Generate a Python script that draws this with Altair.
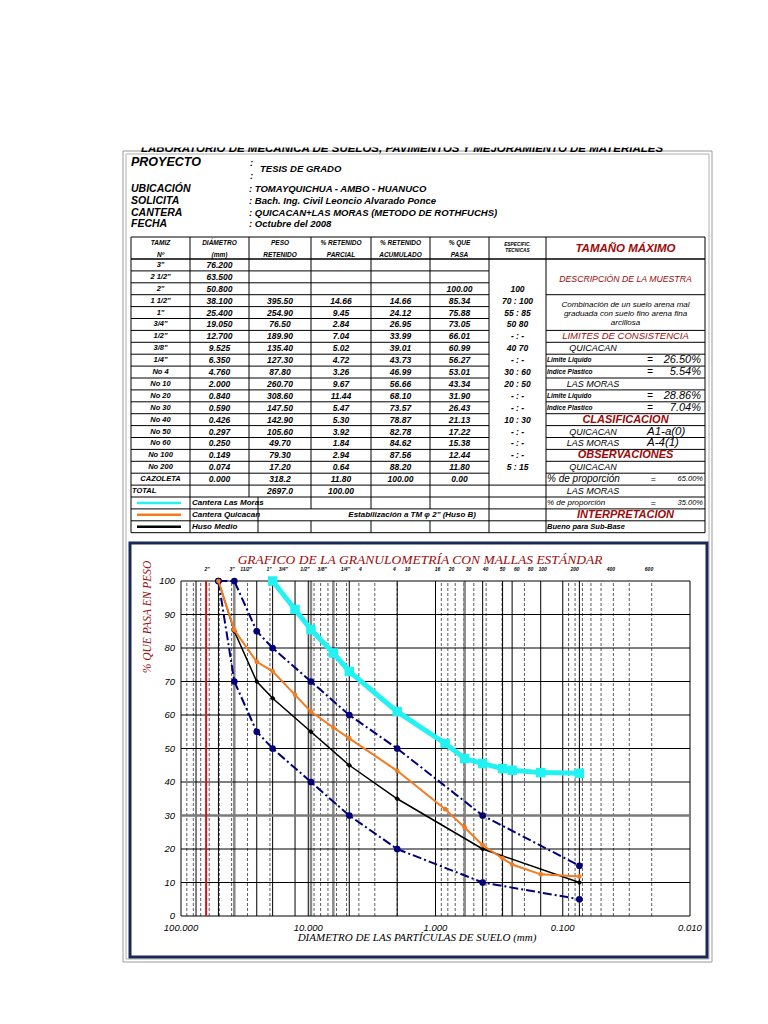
import altair as alt
import pandas as pd

# ================= DATA =================
lab_title = "LABORATORIO DE MECANICA DE SUELOS, PAVIMENTOS Y MEJORAMIENTO DE MATERIALES"
project_label = "PROYECTO"
project_value = "TESIS DE GRADO"
info_labels = ["UBICACIÓN", "SOLICITA", "CANTERA", "FECHA"]
info_values = ["TOMAYQUICHUA - AMBO - HUANUCO",
               "Bach. Ing. Civil Leoncio Alvarado Ponce",
               "QUICACAN+LAS MORAS (METODO DE ROTHFUCHS)",
               "Octubre del 2008"]

head_line1 = ["TAMIZ", "DIÁMETRO", "PESO", "% RETENIDO", "% RETENIDO", "% QUE", "ESPECIFIC."]
head_line2 = ["Nº", "(mm)", "RETENIDO", "PARCIAL", "ACUMULADO", "PASA", "TECNICAS"]

tamiz = ['3"', '2 1/2"', '2"', '1 1/2"', '1"', '3/4"', '1/2"', '3/8"', '1/4"', 'No 4',
         'No 10', 'No 20', 'No 30', 'No 40', 'No 50', 'No 60', 'No 100', 'No 200', 'CAZOLETA']
diametro = ['76.200', '63.500', '50.800', '38.100', '25.400', '19.050', '12.700', '9.525', '6.350',
            '4.760', '2.000', '0.840', '0.590', '0.426', '0.297', '0.250', '0.149', '0.074', '0.000']
peso = ['', '', '', '395.50', '254.90', '76.50', '189.90', '135.40', '127.30', '87.80',
        '260.70', '308.60', '147.50', '142.90', '105.60', '49.70', '79.30', '17.20', '318.2']
ret_parcial = ['', '', '', '14.66', '9.45', '2.84', '7.04', '5.02', '4.72', '3.26',
               '9.67', '11.44', '5.47', '5.30', '3.92', '1.84', '2.94', '0.64', '11.80']
ret_acum = ['', '', '', '14.66', '24.12', '26.95', '33.99', '39.01', '43.73', '46.99',
            '56.66', '68.10', '73.57', '78.87', '82.78', '84.62', '87.56', '88.20', '100.00']
pasa = ['', '', '100.00', '85.34', '75.88', '73.05', '66.01', '60.99', '56.27', '53.01',
        '43.34', '31.90', '26.43', '21.13', '17.22', '15.38', '12.44', '11.80', '0.00']
especif = ['', '', '100', '70 : 100', '55 : 85', '50    80', '- : -', '40    70', '- : -', '30 : 60',
           '20 : 50', '- : -', '- : -', '10 : 30', '- : -', '- : -', '- : -', '5 : 15', '']
total_label = "TOTAL"
total_peso = "2697.0"
total_parcial = "100.00"
legend_names = ["Cantera Las Moras", "Cantera Quicacan", "Huso Medio"]
legend_colors = ["#22F2F2", "#F47B20", "#000000"]
stabil_note = 'Estabilización a TM \u03c6 2" (Huso B)'

tm_title = "TAMAÑO MÁXIMO"
desc_title = "DESCRIPCIÓN DE LA MUESTRA"
desc_lines = ["Combinación de un suelo arena mal", "graduada con suelo fino arena fina", "arcillosa"]
lim_title = "LIMITES DE CONSISTENCIA"
quarry_a = "QUICACAN"
quarry_b = "LAS MORAS"
ll_label = "Limite Liquido"
ip_label = "Indice Plastico"
ll_values = ["26.50%", "28.86%"]
ip_values = ["5.54%", "7.04%"]
clas_title = "CLASIFICACION"
clas_values = ["A1-a(0)", "A-4(1)"]
obs_title = "OBSERVACIONES"
prop_label = "% de proporción"
prop_values = ["65.00%", "35.00%"]
interp_title = "INTERPRETACION"
interp_text = "Bueno para Sub-Base"

chart_title = "GRAFICO DE LA GRANULOMETRÍA CON MALLAS ESTÁNDAR"
y_title = "% QUE PASA EN PESO"
x_title = "DIAMETRO DE LAS PARTÍCULAS DE SUELO (mm)"

# granulometric curves
quic_d = [50.8, 38.1, 25.4, 19.05, 12.7, 9.525, 6.35, 4.76, 2.0, 0.84, 0.59, 0.426, 0.297, 0.25, 0.149, 0.074]
quic_pasa = [100.00, 85.34, 75.88, 73.05, 66.01, 60.99, 56.27, 53.01, 43.34, 31.90, 26.43, 21.13, 17.22, 15.38, 12.44, 11.80]
moras_d = [19.05, 12.7, 9.525, 6.35, 4.76, 2.0, 0.84, 0.59, 0.426, 0.297, 0.25, 0.149, 0.074]
moras_pasa = [100, 91.5, 85.5, 78.5, 73.0, 61.0, 51.5, 47.0, 45.5, 44.0, 43.5, 42.8, 42.6]
huso_d = [50.8, 38.1, 25.4, 19.05, 9.525, 4.76, 2.0, 0.426, 0.074]
huso_sup = [100, 100, 85, 80, 70, 60, 50, 30, 15]
huso_inf = [100, 70, 55, 50, 40, 30, 20, 10, 5]
huso_med = [100, 85, 70, 65, 55, 45, 35, 20, 10]

# grid / tick values
sieve_lines = [76.2, 50.8, 38.1, 25.4, 19.05, 12.7, 9.525, 6.35, 4.76, 2.0, 0.59, 0.426, 0.297, 0.25, 0.149, 0.074]
heavy_lines = [38.1, 9.525, 6.35, 0.59]
decade_vals = [100, 10, 1, 0.1, 0.01]
decade_labels = ["100.000", "10.000", "1.000", "0.100", "0.010"]
minor_vals = [k * 10.0 ** n for n in (-2, -1, 0, 1) for k in range(2, 10)]
max_size_line = [63.5]
y_ticks = [0, 10, 20, 30, 40, 50, 60, 70, 80, 90, 100]
top_labels = ['2"', '3"', '11/2"', '1"', '3/4"', '1/2"', '3/8"', '1/4"', '4', '4', '10', '16',
              '20', '30', '40', '50', '60', '80', '100', '200', '400', '600']
top_label_d = [62.4, 39.7, 30.8, 20.3, 15.7, 10.6, 7.76, 5.11, 3.9, 2.1, 1.66, 0.964,
               0.748, 0.55, 0.404, 0.297, 0.23, 0.179, 0.144, 0.0806, 0.0419, 0.021]

# ================= LAYOUT / STYLE =================
OFF = 8
SANS = "Liberation Sans"
SERIF = "Liberation Serif"
RED = "#9B0A0A"
NAVY = "#00007A"

texts = []
def T(t, x, y, s, c="black", a="center", w="bold", st="italic", f=SANS, ang=0):
    texts.append(dict(t=t, x=x - OFF, y=y - OFF, s=s, c=c, a=a, w=w, st=st, f=f, ang=ang))

lines = []
def L(x, y, x2, y2, c="black", w=1.0, dash=()):
    lines.append(dict(x=x - OFF, y=y - OFF, x2=x2 - OFF, y2=y2 - OFF, c=c, w=w, dash=tuple(dash)))

rects = []
def R(x, y, x2, y2, fill="none", stroke="none", sw=0):
    rects.append(dict(x=x - OFF, y=y - OFF, x2=x2 - OFF, y2=y2 - OFF, fill=fill, stroke=stroke, sw=sw))

# lab title (cut off at the top by a white mask drawn later)
T(lab_title, 402, 149, 11.5)
mask = pd.DataFrame([dict(x=100 - OFF, y=120 - OFF, x2=730 - OFF, y2=147.6 - OFF)])

# document frame
R(123, 151, 712, 962, stroke="#9a9a9a", sw=1)
R(126, 154, 709, 959, stroke="#b0b0b0", sw=1)

# header block
T(project_label, 131, 162, 12.5, a="left")
T(":", 250, 163, 9.5, a="left")
T(":", 250, 176, 9.5, a="left")
T(project_value, 260, 169, 9.5, a="left")
for k, (lab, val) in enumerate(zip(info_labels, info_values)):
    y = [189, 200.5, 212.5, 224][k]
    T(lab, 131, y, 10.5, a="left")
    T(": " + val, 249, y, 9.5, a="left")

# table geometry
edges = [131, 190, 249, 311, 371, 430, 489, 546, 705]
cc = [(edges[i] + edges[i + 1]) / 2 for i in range(8)]
HT, HB, RH = 237, 259, 11.9
def rc(i):
    return HB + RH * (i + 0.5)
def rt(i):
    return HB + RH * i

for j in range(6):
    T(head_line1[j], cc[j], 243, 6.5)
    T(head_line2[j], cc[j], 255, 6.5)
T(head_line1[6], cc[6], 245, 4.8)
T(head_line2[6], cc[6], 251, 4.8)
T(tm_title, cc[7], 249, 11.5, c=RED)

for i in range(19):
    if tamiz[i]:
        T(tamiz[i], cc[0], rc(i), 7.5)
    for j, col in enumerate([diametro, peso, ret_parcial, ret_acum, pasa, especif]):
        if col[i]:
            T(col[i], cc[j + 1], rc(i), 8.5)
T(total_label, 132, rc(19), 7.5, a="left")
T(total_peso, cc[2], rc(19), 8.5)
T(total_parcial, cc[3], rc(19), 8.5)
for k in range(3):
    yc = rc(20 + k)
    L(137, yc, 181, yc, c=legend_colors[k], w=2.5)
    T(legend_names[k], 192, yc, 8, a="left")
T(stabil_note, 476, rc(21), 8, a="right")

# right panel
T(desc_title, cc[7], 279, 8.7, c=RED, w="normal")
for k, s in enumerate(desc_lines):
    T(s, cc[7], 305 + 9 * k, 8, w="normal")
T(lim_title, cc[7], rc(6), 9.5, c=RED, w="normal")
for q, base in enumerate([7, 10]):
    T([quarry_a, quarry_b][q], 593, rc(base), 9, w="normal")
    T(ll_label, 547, rc(base + 1), 6.5, a="left")
    T("=", 650, rc(base + 1), 10, w="normal")
    T(ll_values[q], 701, rc(base + 1), 11, a="right", w="normal")
    T(ip_label, 547, rc(base + 2), 6.5, a="left")
    T("=", 650, rc(base + 2), 10, w="normal")
    T(ip_values[q], 701, rc(base + 2), 11, a="right", w="normal")
T(clas_title, cc[7], rc(13), 11, c=RED)
T(quarry_a, 593, rc(14), 9, w="normal")
T(clas_values[0], 647, rc(14), 11.5, a="left", w="normal")
T(quarry_b, 593, rc(15), 9, w="normal")
T(clas_values[1], 647, rc(15), 11.5, a="left", w="normal")
T(obs_title, cc[7], rc(16), 11, c=RED)
T(quarry_a, 593, rc(17), 9, w="normal")
T(prop_label, 547, rc(18), 10, a="left", w="normal")
T("=", 653, rc(18), 9, w="normal")
T(prop_values[0], 703, rc(18), 7.5, a="right", w="normal")
T(quarry_b, 593, rc(19), 9, w="normal")
T(prop_label, 547, rc(20), 8, a="left", w="normal")
T("=", 653, rc(20), 9, w="normal")
T(prop_values[1], 703, rc(20), 7.5, a="right", w="normal")
T(interp_title, cc[7], rc(21), 11, c=RED)
T(interp_text, 547, rc(22), 7.5, a="left")

# table lines
L(131, HT, 705, HT)
L(131, HB, 705, HB, w=1.5)
for x in edges:
    L(x, HT, x, HB)
for i in range(1, 24):
    L(131, rt(i), 489, rt(i))
for i in range(19, 24):
    L(489, rt(i), 546, rt(i))
for i in [3, 6] + list(range(7, 24)):
    L(546, rt(i), 705, rt(i))
for x in edges:
    L(x, HB, x, rt(20))
for x in [131, 190, 258, 489, 546, 705]:
    L(x, rt(20), x, rt(23))
for x in [311, 371, 430]:
    L(x, rt(20), x, rt(21))
    L(x, rt(22), x, rt(23))

# chart panel box
R(130, 543, 707, 957, stroke="#1b2a55", sw=3)

# chart titles
T(chart_title, 420, 560, 13.5, c=RED, w="normal", f=SERIF)
T(y_title, 148, 617, 11.5, c=RED, w="normal", f=SERIF, ang=270)
T(x_title, 417, 938, 11, w="normal", f=SERIF)

# ================= BUILD LAYERS =================
layers = []

def pix_x(f="x"):
    return alt.X(f + ":Q", scale=None, axis=None)
def pix_y(f="y"):
    return alt.Y(f + ":Q", scale=None, axis=None)

rdf = pd.DataFrame(rects)
for (fill, stroke, sw), g in rdf.groupby(["fill", "stroke", "sw"], sort=False):
    kw = {}
    kw["fill"] = fill if fill != "none" else "transparent"
    if stroke != "none":
        kw["stroke"] = stroke
        kw["strokeWidth"] = sw
    layers.append(alt.Chart(g).mark_rect(**kw).encode(
        x=pix_x(), x2="x2:Q", y=pix_y(), y2="y2:Q"))

ldf = pd.DataFrame(lines)
for (c, w, dash), g in ldf.groupby(["c", "w", "dash"], sort=False):
    kw = dict(color=c, strokeWidth=w)
    if dash:
        kw["strokeDash"] = list(dash)
    layers.append(alt.Chart(g.drop(columns=["dash"])).mark_rule(**kw).encode(
        x=pix_x(), x2="x2:Q", y=pix_y(), y2="y2:Q"))

# ---- granulometric chart through scales ----
xs = alt.Scale(type="log", domain=[0.01, 100], range=[682, 173], nice=False)
ys = alt.Scale(domain=[0, 100], range=[908, 573], nice=False, zero=False)

def vlines(vals, **kw):
    df = pd.DataFrame({"d": vals, "ya": 0, "yb": 100})
    return alt.Chart(df).mark_rule(**kw).encode(
        x=alt.X("d:Q", scale=xs, axis=None),
        y=alt.Y("ya:Q", scale=ys, axis=None), y2="yb:Q")

def hlines(vals, **kw):
    df = pd.DataFrame({"p": vals, "xa": 0.01, "xb": 100})
    return alt.Chart(df).mark_rule(**kw).encode(
        x=alt.X("xa:Q", scale=xs, axis=None), x2="xb:Q",
        y=alt.Y("p:Q", scale=ys, axis=None))

layers.append(vlines(minor_vals, color="#333333", strokeWidth=0.8, strokeDash=[3, 2]))
layers.append(vlines(sieve_lines, color="black", strokeWidth=1))
layers.append(vlines(heavy_lines, color="#8a8a8a", strokeWidth=2.5))
layers.append(vlines(decade_vals, color="black", strokeWidth=1))
layers.append(hlines([v for v in y_ticks if v != 30], color="black", strokeWidth=1))
layers.append(hlines([30], color="#7a7a7a", strokeWidth=2.5))
layers.append(vlines(max_size_line, color="#D01515", strokeWidth=2))

def series(d, p, color, width, dash=None, shape="circle", size=30, filled=True):
    df = pd.DataFrame({"d": d, "p": p, "i": range(len(d))})
    kw = dict(color=color, strokeWidth=width)
    if dash:
        kw["strokeDash"] = dash
    enc = dict(x=alt.X("d:Q", scale=xs, axis=None), y=alt.Y("p:Q", scale=ys, axis=None))
    ln = alt.Chart(df).mark_line(**kw).encode(order="i:Q", **enc)
    pt = alt.Chart(df).mark_point(shape=shape, size=size, filled=filled, color=color, opacity=1).encode(**enc)
    return [ln, pt]

layers += series(huso_d, huso_sup, NAVY, 2, dash=[9, 3, 2, 3], size=45)
layers += series(huso_d, huso_inf, NAVY, 2, dash=[9, 3, 2, 3], size=45)
layers += series(huso_d, huso_med, "black", 1.5, shape="diamond", size=30)
layers += series(quic_d, quic_pasa, "#F47B20", 2, size=22)
layers += series(moras_d, moras_pasa, "#22F2F2", 5, shape="square", size=90)

# tick labels through scales
ytk = pd.DataFrame({"p": y_ticks, "d": 100, "t": [str(v) for v in y_ticks]})
layers.append(alt.Chart(ytk).mark_text(align="right", baseline="middle", dx=-6, fontSize=9.5,
                                       fontStyle="italic", font=SANS).encode(
    x=alt.X("d:Q", scale=xs, axis=None), y=alt.Y("p:Q", scale=ys, axis=None), text="t:N"))
xtk = pd.DataFrame({"d": decade_vals, "p": 0, "t": decade_labels})
layers.append(alt.Chart(xtk).mark_text(align="center", baseline="middle", dy=12, fontSize=9.5,
                                       fontStyle="italic", font=SANS).encode(
    x=alt.X("d:Q", scale=xs, axis=None), y=alt.Y("p:Q", scale=ys, axis=None), text="t:N"))
ttk = pd.DataFrame({"d": top_label_d, "p": 100, "t": top_labels})
layers.append(alt.Chart(ttk).mark_text(align="center", baseline="middle", dy=-12, fontSize=5,
                                       fontStyle="italic", fontWeight="bold", font=SANS).encode(
    x=alt.X("d:Q", scale=xs, axis=None), y=alt.Y("p:Q", scale=ys, axis=None), text="t:N"))

# text layers (page coordinates)
tdf = pd.DataFrame(texts)
for (a, w, st, f, ang), g in tdf.groupby(["a", "w", "st", "f", "ang"], sort=False):
    kw = dict(align=a, baseline="middle", fontWeight=w, fontStyle=st, font=f)
    if ang:
        kw["angle"] = ang
    layers.append(alt.Chart(g).mark_text(**kw).encode(
        x=pix_x(), y=pix_y(), text="t:N",
        size=alt.Size("s:Q", scale=None, legend=None),
        color=alt.Color("c:N", scale=None, legend=None)))

# white mask hiding the top half of the lab title
layers.append(alt.Chart(mask).mark_rect(fill="white").encode(
    x=pix_x(), x2="x2:Q", y=pix_y(), y2="y2:Q"))

chart = alt.layer(*layers).properties(
    width=752, height=1008, padding=0, background="white",
    autosize=alt.AutoSizeParams(type="none")
).configure_view(stroke=None)

chart.save("out.html", embed_options={"renderer": "svg", "actions": False})
